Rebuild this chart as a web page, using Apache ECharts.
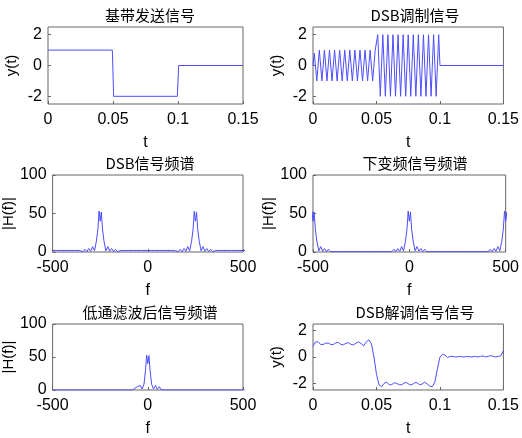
<!DOCTYPE html>
<html><head><meta charset="utf-8">
<script src="https://cdn.jsdelivr.net/npm/echarts@6/dist/echarts.min.js"></script>
<style>html,body{margin:0;background:#fff}#c{width:522px;height:438px}</style>
</head><body><div id="c"></div>
<script>
// 基带信号
var baseT = [0, 0.0495, 0.0505, 0.0995, 0.1005, 0.15];
var baseY = [1, 1, -2, -2, 0, 0];
// DSB 调制信号 (峰值点)
var dsbY = [0.8,-1,1,-1,1,-1,1,-1,1,-1,1,-1,1,-1,1,-1,1,-1,1,-1,1,-1,1,-1,1,
            2,-2,2,-2,2,-2,2,-2,2,-2,2,-2,2,-2,2,-2,2,-2,2,-2,2,-2,2,-2,2,0];
// 频谱主瓣形状
var lobeF = [-100,-90,-80,-70,-60,-50,-40,-30,-20,-12,-6,0,6,12,20,30,40,50,60,70,80,90,100];
var lobeV = [3,0.5,3.5,0.5,4.5,1,7,1.5,14,30,53,40,52,30,14,1.5,7,1,4.5,0.5,3.5,0.5,3];
var lpLobeV = [0,0,0,0,4,1,7,1.5,9,30,53,40,52,30,9,1.5,7,1,5,0.5,0,0,0];
var ripple = [2, 0.5];
// 解调信号
var demodY = [0.8,1.15,1.15,0.95,0.95,1.05,1.05,0.95,0.95,1.08,1.1,0.95,0.92,1.05,1.08,0.95,0.92,1.05,1.15,1.0,
  0.85,1.15,1.3,1.0,0.0,-1.3,-2.1,-2.25,-2.0,-1.9,-2.1,-2.1,-1.95,-2.0,-2.1,-2.1,-1.95,-1.95,-2.1,-2.1,
  -1.95,-1.95,-2.1,-2.05,-1.9,-2.05,-2.2,-2.25,-1.9,-0.9,0.0,0.2,0.15,-0.05,0.05,0.05,0.0,0.02,0.05,0.0,
  0.02,0.05,0.0,0.02,0.05,0.0,0.05,0.08,0.0,0.05,0.1,0.05,0.0,0.05,0.1,0.5];
var tTicks = [0, 0.05, 0.1, 0.15];
var fTicks = [-500, 0, 500];
var yTicks = [-2, 0, 2];
var hTicks = [0, 50, 100];

function pairs(xs, ys){ var d=[]; for(var i=0;i<xs.length;i++) d.push([xs[i], ys[i]]); return d; }
function spectrum(centers, lv, useFloor){
  var d=[];
  for(var f=-600; f<=600; f+=10){
    var near=false;
    for(var c=0;c<centers.length;c++) if(Math.abs(f-centers[c])<=100) near=true;
    if(!near) d.push([f, useFloor ? ripple[(f/10+100)%2] : 0]);
  }
  centers.forEach(function(c){ lobeF.forEach(function(o,i){ d.push([c+o, lv[i]]); }); });
  d.sort(function(a,b){return a[0]-b[0];});
  return d;
}
var dsbData = [[0,0]];
dsbY.forEach(function(v,i){ dsbData.push([0.001+0.002*i - (i==50?0.001:0), v]); });
dsbData.push([0.15,0]);
var demodData = demodY.map(function(v,i){ return [0.002*i, v]; });

var font = 'Liberation Sans, Arial, "Noto Sans CJK SC"';
var L = [48, 313], T = [27, 175, 324], H = [77, 77, 75];
var grids=[], xs=[], ys=[], titles=[], series=[];
var cfg = [
  {t:'基带发送信号', x:[0,0.15], xt:tTicks, y:[-2.5,2.5], yt:yTicks, xn:'t', yn:'y(t)', data:pairs(baseT, baseY)},
  {t:'DSB调制信号', x:[0,0.15], xt:tTicks, y:[-2.5,2.5], yt:yTicks, xn:'t', yn:'y(t)', data:dsbData},
  {t:'DSB信号频谱', x:[-500,500], xt:fTicks, y:[0,100], yt:hTicks, xn:'f', yn:'|H(f)|', data:spectrum([-250,250], lobeV, true)},
  {t:'下变频信号频谱', x:[-500,500], xt:fTicks, y:[0,100], yt:hTicks, xn:'f', yn:'|H(f)|', data:spectrum([-500,0,500], lobeV, true)},
  {t:'低通滤波后信号频谱', x:[-500,500], xt:fTicks, y:[0,100], yt:hTicks, xn:'f', yn:'|H(f)|', data:spectrum([0], lpLobeV, false)},
  {t:'DSB解调信号信号', x:[0,0.15], xt:tTicks, y:[-2.5,2.5], yt:yTicks, xn:'t', yn:'y(t)', data:demodData}
];
cfg.forEach(function(c,i){
  var l=L[i%2], t=T[Math.floor(i/2)], h=H[Math.floor(i/2)];
  grids.push({left:l, top:t, width:195, height:h, show:true, borderColor:'#666', borderWidth:1});
  titles.push({text:c.t, left:l+97, top:t-24, textAlign:'center',
    textStyle:{fontSize:15, fontWeight:'normal', color:'#000', fontFamily:'"Noto Sans CJK SC", Liberation Sans'}});
  xs.push({gridIndex:i, type:'value', min:c.x[0], max:c.x[1], name:c.xn,
    nameLocation:'middle', nameGap:31, nameTextStyle:{fontSize:16, color:'#000', fontFamily:font},
    axisLine:{show:false, onZero:false},
    axisTick:{inside:true, length:3, customValues:c.xt, lineStyle:{color:'#666'}}, splitLine:{show:false},
    axisLabel:{fontSize:16, color:'#000', fontFamily:font, margin:8, customValues:c.xt}});
  ys.push({gridIndex:i, type:'value', min:c.y[0], max:c.y[1], name:c.yn,
    nameLocation:'middle', nameGap:29, nameTextStyle:{fontSize:15, color:'#000', fontFamily:font},
    axisLine:{show:false, onZero:false},
    axisTick:{inside:true, length:3, customValues:c.yt, lineStyle:{color:'#666'}}, splitLine:{show:false},
    axisLabel:{fontSize:16, color:'#000', fontFamily:font, margin:6, customValues:c.yt}});
  series.push({type:'line', xAxisIndex:i, yAxisIndex:i, data:c.data, showSymbol:false, clip:true,
    lineStyle:{color:'#4d4dff', width:1}, animation:false});
});
var myChart = echarts.init(document.getElementById('c'));
myChart.setOption({title:titles, grid:grids, xAxis:xs, yAxis:ys, series:series, animation:false});
</script></body></html>
